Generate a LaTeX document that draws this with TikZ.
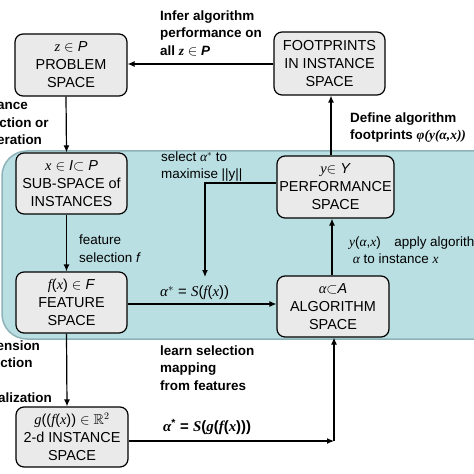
\documentclass[tikz,border=0pt]{standalone}
\usepackage{fontspec}
\usepackage{amssymb}
\setmainfont{Liberation Sans}
\newfontfamily\tms{Liberation Serif}
\usetikzlibrary{arrows.meta}
\definecolor{panelfill}{HTML}{BADFE3}
\definecolor{panelline}{HTML}{8DB3B8}
\definecolor{boxfill}{HTML}{EAEAEA}
\newcommand{\si}[1]{{\tms\itshape #1}}
\begin{document}
\begin{tikzpicture}[x=1bp,y=-1bp,
  box/.style={draw=black, line width=1.2bp, fill=boxfill, rounded corners=8bp,
    align=center, inner sep=0pt, font=\fontsize{14.5}{18}\selectfont},
  arr/.style={-{Latex[length=7bp,width=6bp]}, line width=1.2bp},
  bl/.style={anchor=west, align=left, inner sep=0pt, font=\bfseries\fontsize{13.5}{17.5}\selectfont},
  nl/.style={anchor=west, align=left, inner sep=0pt, font=\fontsize{13.5}{17.5}\selectfont},
  ml/.style={anchor=west, inner sep=0pt, font=\fontsize{15}{18}\selectfont}]
\useasboundingbox (0,0) rectangle (474,474);
% panel
\draw[draw=panelline, line width=1.5bp, fill=panelfill, rounded corners=25bp] (2,151) rectangle (520,339);
% boxes
\node[box, minimum width=112bp, minimum height=62bp] (prob) at (71,65) {\si{z} $\in$ \textit{P}\\PROBLEM\\SPACE};
\node[box, minimum width=111bp, minimum height=63bp] (foot) at (329.5,63.5) {FOOTPRINTS\\IN INSTANCE\\SPACE};
\node[box, minimum width=111bp, minimum height=61bp] (sub) at (71.5,183.5) {\si{x} $\in$ \textit{I}$\subset$ \textit{P}\\SUB-SPACE of\\INSTANCES};
\node[box, minimum width=111bp, minimum height=61bp] (feat) at (71.5,302.5) {\si{f}(\si{x}) $\in$ \textit{F}\\FEATURE\\SPACE};
\node[box, minimum width=117bp, minimum height=62bp] (perf) at (335.5,187) {\si{y}$\in$ \textit{Y}\\PERFORMANCE\\SPACE};
\node[box, minimum width=112bp, minimum height=61bp] (alg) at (333,306.5) {\si{α}$\subset$\textit{A}\\ALGORITHM\\SPACE};
\node[box, minimum width=112bp, minimum height=60bp] (twod) at (72,437) {\si{g}((\si{f}(\si{x})) $\in\mathbb{R}^2$\\2-d INSTANCE\\SPACE};
% helper coordinates
\coordinate (c64) at (0,64);
\coordinate (c304) at (0,304);
\coordinate (c183) at (0,183);
\coordinate (selend) at (205,277);
\coordinate (corner) at (334,441);
\coordinate (x332) at (332,0);
\coordinate (x331) at (331,0);
% connectors
\draw[arr] (foot.west |- c64) -- (prob.east |- c64);
\draw[arr] ([xshift=-5bp]prob.south) -- ([xshift=-5bp]sub.north);
\draw[arr] ([xshift=-5bp]sub.south) -- ([xshift=-5bp]feat.north);
\draw[arr] ([xshift=-5bp]feat.south) -- ([xshift=-5bp]twod.north);
\draw[arr] (feat.east |- c304) -- (alg.west |- c304);
\draw[arr] (perf.west |- c183) -| (selend);
\draw[arr] (alg.north -| x332) -- (perf.south -| x332);
\draw[arr] (perf.north -| x331) -- (foot.south -| x331);
\draw[arr] (twod.east |- corner) -- (corner);
\draw[arr] (corner) -- (alg.south -| corner);
% labels
\node[bl] (l1) at (160,33) {Infer algorithm\\performance on\\all \si{z} $\in$ \textit{P}};
\node[bl] (l2) at (-27,124) {Instance\\selection or\\generation};
\node[bl] (l3) at (350,127.5) {Define algorithm\\footprints \si{φ(y(α,x))}};
\node[nl] (l4) at (161,166.5) {select \si{α}$^*$ to\\maximise ||y||};
\node[nl] (l5) at (79,248.5) {feature\\selection \textit{f}};
\node[ml] (l6) at (160,293) {\si{α}$^*$ = \si{S}(\si{f}(\si{x}))};
\node[nl] (l7) at (349,250) {\si{y}(\si{α},\si{x})\quad apply algorithm\\\ \si{α} to instance \si{x}};
\node[bl] (l8) at (-29,354) {Dimension\\reduction};
\node[bl] (l9) at (-29,398) {visualization};
\node[bl] (l10) at (160,368) {learn selection\\mapping\\from features};
\node[ml, font=\bfseries\fontsize{15}{18}\selectfont] (l11) at (163,427) {\si{α}\textsuperscript{*} = \si{S}(\si{g}(\si{f}(\si{x})))};
\end{tikzpicture}
\end{document}
